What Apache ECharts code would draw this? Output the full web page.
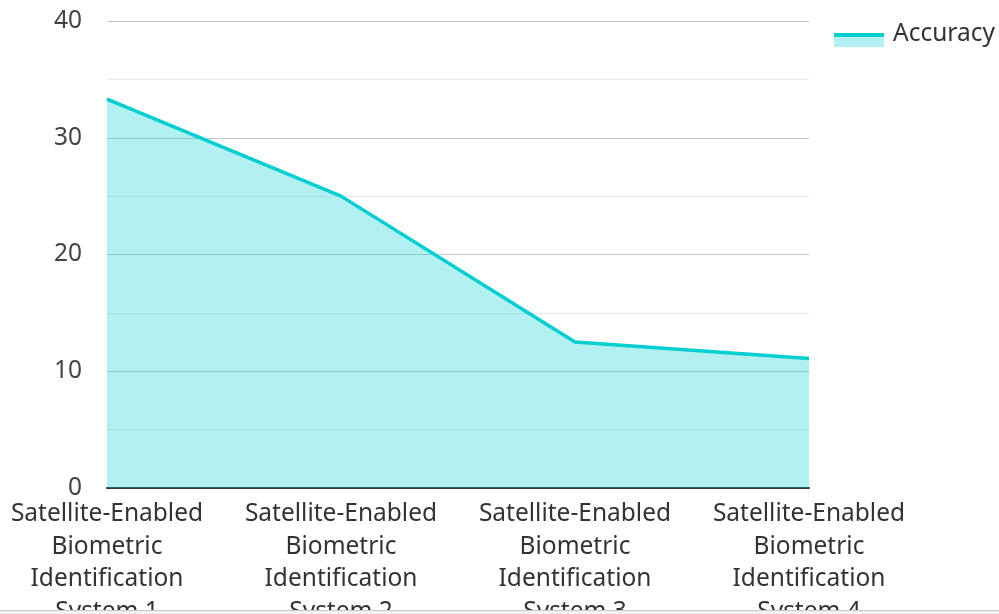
<!DOCTYPE html>
<html>
<head>
<meta charset="utf-8">
<script src="https://cdn.jsdelivr.net/npm/echarts@6/dist/echarts.min.js"></script>
<style>
  html, body { margin: 0; padding: 0; background: #fff; overflow: hidden; }
  #chart { width: 999px; height: 614px; }
  #bar { position: fixed; left: 0; right: 0; bottom: 0; height: 3px;
         border-top: 1px solid #c8c8c8; background: #f1f1f1; }
</style>
</head>
<body>
<div id="chart"></div>
<div id="bar"></div>
<script>
// Accuracy of each satellite-enabled biometric identification system
const categories = [
  'Satellite-Enabled Biometric Identification System 1',
  'Satellite-Enabled Biometric Identification System 2',
  'Satellite-Enabled Biometric Identification System 3',
  'Satellite-Enabled Biometric Identification System 4'
];
const accuracy = [33.3, 25, 12.5, 11.1];
const seriesName = 'Accuracy';

const font = '"Noto Sans", "Open Sans", sans-serif';
const fontSize = 24.5;
const lineColor = '#00CED1';
const fillColor = 'rgba(0,206,209,0.3)';

// one word group per line: "Satellite-Enabled / Biometric / Identification / System N"
function wrapLabel(v) {
  return v.replace(/ (?=Biometric|Identification|System)/g, '\n');
}

const chart = echarts.init(document.getElementById('chart'));
chart.setOption({
  animation: false,
  textStyle: { fontFamily: font },
  legend: {
    data: [{
      name: seriesName,
      icon: 'rect',
      itemStyle: {
        // line band over a translucent area swatch, sitting low in the item box
        color: new echarts.graphic.LinearGradient(0, 0, 0, 1, [
          { offset: 0, color: 'rgba(255,255,255,0)' },
          { offset: 0.46, color: 'rgba(255,255,255,0)' },
          { offset: 0.46, color: lineColor },
          { offset: 0.615, color: lineColor },
          { offset: 0.615, color: fillColor },
          { offset: 1, color: fillColor }
        ])
      }
    }],
    padding: 0,
    right: 4,
    top: 21,
    itemWidth: 50,
    itemHeight: 26,
    textStyle: { fontSize: fontSize, color: '#333', fontFamily: font, padding: [0, 0, 0, 4] }
  },
  grid: { left: 107, right: 190, top: 21, bottom: 126, outerBoundsMode: 'none' },
  xAxis: {
    type: 'category',
    data: categories,
    boundaryGap: false,
    axisTick: { show: false },
    axisLine: { lineStyle: { color: '#333', width: 2 } },
    axisLabel: {
      interval: 0,
      fontSize: fontSize,
      color: '#333',
      lineHeight: 32.5,
      margin: 10,
      formatter: wrapLabel,
      fontFamily: font
    }
  },
  yAxis: {
    type: 'value',
    min: 0,
    max: 40,
    interval: 10,
    axisLine: { show: false },
    axisTick: { show: false },
    axisLabel: { fontSize: fontSize, color: '#444', margin: 25, fontFamily: font },
    splitLine: { lineStyle: { color: '#c8c8c8', width: 1 } },
    minorTick: { show: false, splitNumber: 2 },
    minorSplitLine: { show: true, lineStyle: { color: '#e8e8e8', width: 1 } }
  },
  series: [{
    name: seriesName,
    type: 'line',
    data: accuracy,
    showSymbol: false,
    symbol: 'none',
    lineStyle: { color: lineColor, width: 3.5 },
    itemStyle: { color: lineColor },
    areaStyle: { color: lineColor, opacity: 0.3 }
  }]
});
</script>
</body>
</html>
